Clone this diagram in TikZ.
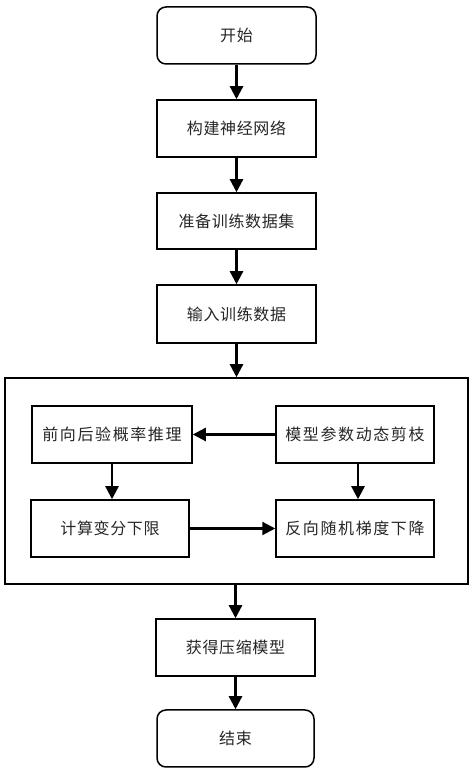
\documentclass[tikz,border=0pt]{standalone}
\usepackage{fontspec}
\newfontfamily\cjk[LetterSpace=4]{Noto Sans CJK SC}
\newfontfamily\cjkw[LetterSpace=10]{Noto Sans CJK SC}
\usetikzlibrary{arrows.meta}
\begin{document}
\begin{tikzpicture}[x=1pt,y=1pt,
  box/.style={draw=black,line width=1.5pt,minimum height=57pt,inner sep=0pt,font=\cjk\fontsize{16}{19}\selectfont,text=black!85},
  rbox/.style={box,rounded corners=9pt},
  wbox/.style={box,font=\cjkw\fontsize{16}{19}\selectfont},
  arr/.style={line width=2.3pt,-{Triangle[length=13pt,width=13pt]}}]
\useasboundingbox (0,0) rectangle (474,773);
\node[rbox,minimum width=159pt] (start) at (236.5,737.5) {开始};
\node[box,minimum width=159pt] (b2) at (236.5,644.5) {构建神经网络};
\node[box,minimum width=159pt,minimum height=56pt] (b3) at (236.5,552) {准备训练数据集};
\node[box,minimum width=159pt,minimum height=58pt] (b4) at (236.5,459) {输入训练数据};
\node[draw=black,line width=1.5pt,minimum width=463pt,minimum height=206pt,inner sep=0pt] (frame) at (236.5,292) {};
\node[wbox,minimum width=160pt] (l1) at (112,338.5) {前向后验概率推理};
\node[wbox,minimum width=158pt] (r1) at (355,338.5) {模型参数动态剪枝};
\node[box,minimum width=158pt] (l2) at (110,244.5) {计算变分下限};
\node[wbox,minimum width=158pt] (r2) at (355,244.5) {反向随机梯度下降};
\node[box,minimum width=159pt] (b5) at (235.5,125.5) {获得压缩模型};
\node[rbox,minimum width=157pt] (end) at (235.5,34.5) {结束};
\draw[arr] (start) -- (b2);
\draw[arr] (b2) -- (b3);
\draw[arr] (b3) -- (b4);
\draw[arr] (b4.south) -- (b4.south |- frame.north);
\draw[arr] (r1) -- (l1);
\draw[arr] (l1.south) -- (l1.south |- l2.north);
\draw[arr] ([xshift=3pt]r1.south) -- ([xshift=3pt]r1.south |- r2.north);
\draw[arr] (l2) -- (r2);
\draw[arr] (frame.south -| b5.north) -- (b5.north);
\draw[arr] (b5) -- (end);
\end{tikzpicture}
\end{document}
